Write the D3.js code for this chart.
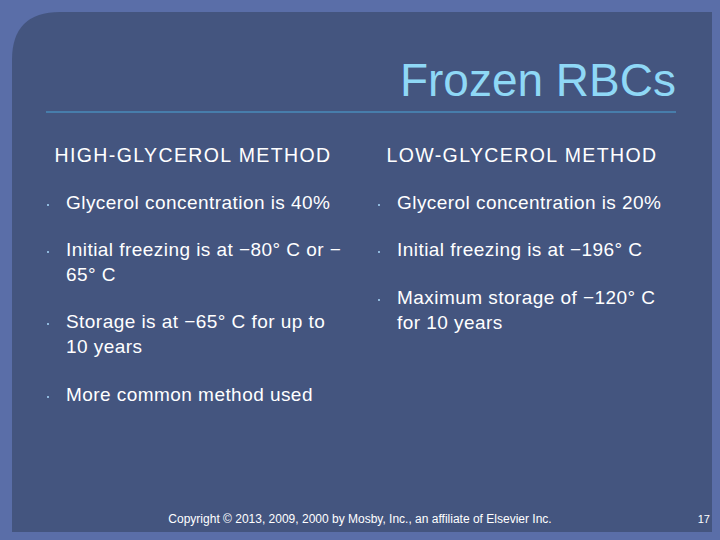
<!DOCTYPE html>
<html>
<head>
<meta charset="utf-8">
<script src="https://d3js.org/d3.v7.min.js"></script>
<style>
  body { margin: 0; background: #5a6ea8; }
  text { font-family: "Liberation Sans", Arial, sans-serif; }
</style>
</head>
<body>
<script>
// slide content
var title = "Frozen RBCs";
var headings = ["HIGH-GLYCEROL METHOD", "LOW-GLYCEROL METHOD"];
var leftBullets = [
  ["Glycerol concentration is 40%"],
  ["Initial freezing is at \u221280\u00b0 C or \u2212", "65\u00b0 C"],
  ["Storage is at \u221265\u00b0 C for up to", "10 years"],
  ["More common method used"]
];
var rightBullets = [
  ["Glycerol concentration is 20%"],
  ["Initial freezing is at \u2212196\u00b0 C"],
  ["Maximum storage of \u2212120\u00b0 C", "for 10 years"]
];
var leftY = [209, 256, 328, 401];
var rightY = [209, 256, 304];
var footer = "Copyright \u00a9 2013, 2009, 2000 by Mosby, Inc., an affiliate of Elsevier Inc.";
var pageNum = "17";

var svg = d3.select("body").append("svg").attr("width", 720).attr("height", 540);

// background panel with rounded top-left corner
svg.append("rect").attr("width", 720).attr("height", 540).attr("fill", "#5a6ea8");
svg.append("path")
  .attr("d", "M12,60 Q12,12 60,12 L712,12 L712,532 L12,532 Z")
  .attr("fill", "#44557f");

svg.append("text").attr("x", 676).attr("y", 96).attr("text-anchor", "end")
  .attr("font-size", 46).attr("fill", "#8fd8f6").text(title);
svg.append("line").attr("x1", 46).attr("x2", 676).attr("y1", 112).attr("y2", 112)
  .attr("stroke", "#4ba6d8").attr("stroke-width", 1.2);

var cols = [
  {head: headings[0], hx: 193, bx: 47, tx: 66, items: leftBullets, ys: leftY},
  {head: headings[1], hx: 522, bx: 378, tx: 397, items: rightBullets, ys: rightY}
];

cols.forEach(function(c) {
  svg.append("text").attr("x", c.hx).attr("y", 162).attr("text-anchor", "middle")
    .attr("font-size", 19.5).attr("letter-spacing", 1.4).attr("fill", "#ffffff").text(c.head);
  var g = svg.selectAll(null).data(c.items).enter().append("g");
  g.append("rect").attr("x", c.bx).attr("y", function(d, i) { return c.ys[i] - 5; })
    .attr("width", 2).attr("height", 2).attr("fill", "#8fb8dc");
  g.append("text").attr("font-size", 19).attr("letter-spacing", 0.45).attr("fill", "#ffffff")
    .selectAll("tspan").data(function(d, i) { return d.map(function(s, j) { return {s: s, y: c.ys[i] + j * 25}; }); })
    .enter().append("tspan").attr("x", c.tx).attr("y", function(d) { return d.y; }).text(function(d) { return d.s; });
});

svg.append("text").attr("x", 360).attr("y", 523).attr("text-anchor", "middle")
  .attr("font-size", 12).attr("fill", "#ffffff").text(footer);
svg.append("text").attr("x", 710).attr("y", 523).attr("text-anchor", "end")
  .attr("font-size", 11).attr("fill", "#ffffff").text(pageNum);
</script>
</body>
</html>
